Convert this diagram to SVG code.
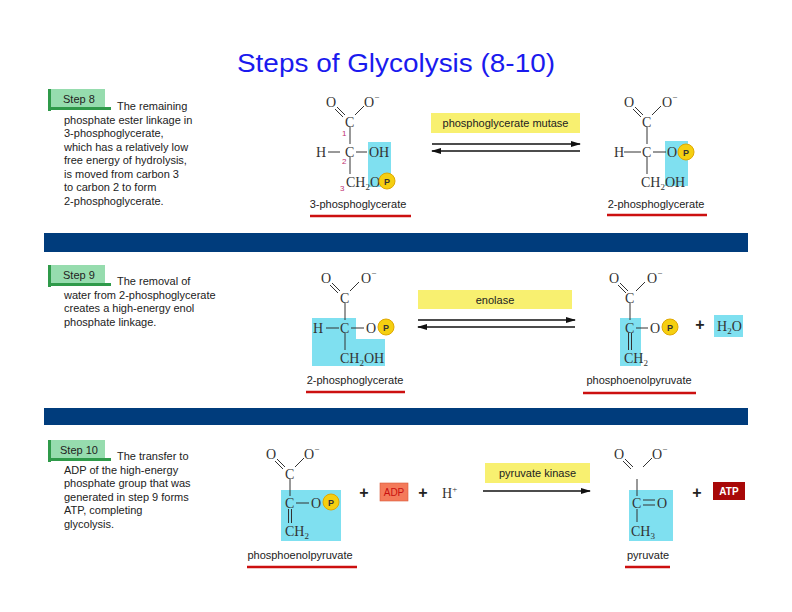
<svg xmlns="http://www.w3.org/2000/svg" width="792" height="612" viewBox="0 0 792 612">
<style>
.t{font-family:"Liberation Sans",Arial,sans-serif;font-size:11px;fill:#222}
.a{font-family:"Liberation Serif","Times New Roman",serif;font-size:14px;fill:#333}
.s{font-size:9px}
.n{font-family:"Liberation Sans",sans-serif;font-size:8px;fill:#c03070}
.b{stroke:#333;stroke-width:1;fill:none}
.cy{fill:#7fe0f0}
.en{fill:#f8f070}
.ul{stroke:#cc1010;stroke-width:2.5}
.band{fill:#003c7c}
.sb{fill:#96dcae}
.sd{fill:#2f9a4a}
.pc{fill:#f5cf10;stroke:#e0a800;stroke-width:1}
.pt{font-family:"Liberation Sans",sans-serif;font-size:9px;font-weight:bold;fill:#333}
.ar{stroke:#111;stroke-width:1.5}
.plus{font-family:"Liberation Sans",sans-serif;font-size:16px;font-weight:bold;fill:#222}
</style>
<defs>
<marker id="ah" viewBox="0 0 10 10" refX="9" refY="5" markerWidth="7" markerHeight="7" orient="auto-start-reverse"><path d="M0,2 L10,5 L0,8 z" fill="#111"/></marker>
</defs>
<text x="396" y="72" text-anchor="middle" font-family="Liberation Sans,Arial,sans-serif" font-size="26" fill="#1a1aee" textLength="318" lengthAdjust="spacingAndGlyphs">Steps of Glycolysis (8-10)</text>
<rect class="band" x="44" y="233" width="704" height="19"/>
<rect class="band" x="44" y="408" width="704" height="17"/>

<g id="step8">
<rect class="sb" x="48" y="89" width="57" height="20"/><rect class="sd" x="48" y="89" width="3" height="22"/><rect class="sd" x="48" y="107" width="63" height="3"/>
<text class="t" x="63" y="103" font-size="11">Step 8</text>
<text class="t"><tspan x="117" y="110">The remaining</tspan><tspan x="64" y="123.5">phosphate ester linkage in</tspan><tspan x="64" y="137">3-phosphoglycerate,</tspan><tspan x="64" y="150.5">which has a relatively low</tspan><tspan x="64" y="164">free energy of hydrolysis,</tspan><tspan x="64" y="177.5">is moved from carbon 3</tspan><tspan x="64" y="191">to carbon 2 to form</tspan><tspan x="64" y="204.5">2-phosphoglycerate.</tspan></text>
</g>
<g id="pg3">
<rect class="cy" x="368" y="142" width="23" height="45"/>
<text class="a" x="326" y="107">O</text><text class="a" x="364" y="107">O<tspan class="s" dy="-7">−</tspan></text>
<path class="b" d="M337,107 L345,115 M335,109 L343,117 M355,115 L364,106 M350,127 V144 M328,152 H340 M356,152 H367 M350,157 V174"/>
<text class="a" x="345" y="127">C</text>
<text class="n" x="342" y="136">1</text><text class="n" x="342" y="164">2</text><text class="n" x="340" y="191">3</text>
<text class="a" x="316" y="157">H</text><text class="a" x="345" y="157">C</text><text class="a" x="369" y="157">OH</text>
<text class="a" x="346" y="187">CH<tspan class="s" dy="3">2</tspan><tspan dy="-3">O</tspan></text>
<circle class="pc" cx="387" cy="181" r="8"/><text class="pt" x="387" y="184.5" text-anchor="middle">P</text>
<text class="t" x="358" y="208" text-anchor="middle">3-phosphoglycerate</text>
<line class="ul" x1="310" y1="216" x2="411" y2="216"/>
</g>
<g id="pg2a">
<rect class="cy" x="665" y="141" width="23" height="45"/>
<text class="a" x="624" y="107">O</text><text class="a" x="662" y="107">O<tspan class="s" dy="-7">−</tspan></text>
<path class="b" d="M635,107 L643,115 M633,109 L641,117 M652,115 L661,106 M647,127 V144 M624,152 H641 M653,152 H666 M647,157 V174"/>
<text class="a" x="642" y="127">C</text>
<text class="a" x="614" y="157">H</text><text class="a" x="642" y="157">C</text><text class="a" x="667" y="157">O</text>
<circle class="pc" cx="686" cy="152" r="8"/><text class="pt" x="686" y="155.5" text-anchor="middle">P</text>
<text class="a" x="641" y="187">CH<tspan class="s" dy="3">2</tspan><tspan dy="-3">OH</tspan></text>
<text class="t" x="656" y="208" text-anchor="middle">2-phosphoglycerate</text>
<line class="ul" x1="607" y1="215" x2="707" y2="215"/>
</g>
<g id="mutase">
<rect class="en" x="431" y="113" width="149" height="20"/>
<text class="t" x="505.5" y="127" text-anchor="middle">phosphoglycerate mutase</text>
</g>

<g id="step9">
<rect class="sb" x="48" y="265" width="57" height="20"/><rect class="sd" x="48" y="265" width="3" height="22"/><rect class="sd" x="48" y="283" width="63" height="3"/>
<text class="t" x="63" y="279">Step 9</text>
<text class="t"><tspan x="117" y="285">The removal of</tspan><tspan x="64" y="298.5">water from 2-phosphoglycerate</tspan><tspan x="64" y="312">creates a high-energy enol</tspan><tspan x="64" y="325.5">phosphate linkage.</tspan></text>
</g>
<g id="pg2b">
<path class="cy" d="M312,318 H356 V339 H385 V366 H312 Z"/>
<text class="a" x="321" y="283">O</text><text class="a" x="361" y="283">O<tspan class="s" dy="-7">−</tspan></text>
<path class="b" d="M332,283 L340,291 M330,285 L338,293 M350,291 L359,282 M345,303 V320 M326,328 H339 M351,328 H364 M345,333 V350"/>
<text class="a" x="340" y="303">C</text>
<text class="a" x="313" y="333">H</text><text class="a" x="340" y="333">C</text><text class="a" x="366" y="333">O</text>
<circle class="pc" cx="386" cy="327" r="8"/><text class="pt" x="386" y="330.5" text-anchor="middle">P</text>
<text class="a" x="340" y="363">CH<tspan class="s" dy="3">2</tspan><tspan dy="-3">OH</tspan></text>
<text class="t" x="355" y="384" text-anchor="middle">2-phosphoglycerate</text>
<line class="ul" x1="306" y1="392" x2="405" y2="392"/>
</g>
<g id="pep1">
<rect class="cy" x="620" y="318" width="21" height="48"/>
<text class="a" x="609" y="283">O</text><text class="a" x="647" y="283">O<tspan class="s" dy="-7">−</tspan></text>
<path class="b" d="M620,283 L628,291 M618,285 L626,293 M636,291 L645,282 M630,303 V320 M636,328 H648 M628.5,333 V350 M631.5,333 V350"/>
<text class="a" x="625" y="303">C</text><text class="a" x="625" y="333">C</text><text class="a" x="650" y="333">O</text>
<circle class="pc" cx="670" cy="327" r="8"/><text class="pt" x="670" y="330.5" text-anchor="middle">P</text>
<text class="a" x="624" y="363">CH<tspan class="s" dy="3">2</tspan></text>
<text class="t" x="639" y="384" text-anchor="middle">phosphoenolpyruvate</text>
<line class="ul" x1="583" y1="393" x2="696" y2="393"/>
</g>
<text class="plus" x="700" y="330" text-anchor="middle">+</text>
<g id="h2o"><rect class="cy" x="714" y="315" width="29" height="22"/><text class="a" x="717" y="331">H<tspan class="s" dy="3">2</tspan><tspan dy="-3">O</tspan></text></g>
<g id="enolase">
<rect class="en" x="418" y="290" width="154" height="19"/>
<text class="t" x="495" y="303.5" text-anchor="middle">enolase</text>
</g>

<g id="step10">
<rect class="sb" x="48" y="440" width="57" height="20"/><rect class="sd" x="48" y="440" width="3" height="22"/><rect class="sd" x="48" y="458" width="63" height="3"/>
<text class="t" x="60" y="454">Step 10</text>
<text class="t"><tspan x="117" y="460">The transfer to</tspan><tspan x="64" y="473.5">ADP of the high-energy</tspan><tspan x="64" y="487">phosphate group that was</tspan><tspan x="64" y="500.5">generated in step 9 forms</tspan><tspan x="64" y="514">ATP, completing</tspan><tspan x="64" y="527.5">glycolysis.</tspan></text>
</g>
<g id="pep2">
<rect class="cy" x="281" y="490" width="60" height="51"/>
<text class="a" x="266" y="459">O</text><text class="a" x="304" y="459">O<tspan class="s" dy="-7">−</tspan></text>
<path class="b" d="M277,459 L285,467 M275,461 L283,469 M295,467 L304,458 M290,479 V496 M296,503 H309 M288.5,509 V523 M291.5,509 V523"/>
<text class="a" x="285" y="479">C</text><text class="a" x="285" y="508">C</text><text class="a" x="311" y="508">O</text>
<circle class="pc" cx="331" cy="502" r="8"/><text class="pt" x="331" y="505.5" text-anchor="middle">P</text>
<text class="a" x="285" y="536">CH<tspan class="s" dy="3">2</tspan></text>
<text class="t" x="300" y="559" text-anchor="middle">phosphoenolpyruvate</text>
<line class="ul" x1="247" y1="567" x2="357" y2="567"/>
</g>
<text class="plus" x="364" y="498" text-anchor="middle">+</text>
<g id="adp"><rect x="380" y="483" width="28" height="18" fill="#f47a5a" stroke="#d85a3a" stroke-width="0.6"/><text x="394" y="496" text-anchor="middle" font-family="Liberation Sans,sans-serif" font-size="10" fill="#c81010">ADP</text></g>
<text class="plus" x="423" y="498" text-anchor="middle">+</text>
<text class="a" x="442" y="498">H<tspan class="s" dy="-6">+</tspan></text>
<g id="kinase">
<rect class="en" x="485" y="463" width="105" height="20"/>
<text class="t" x="537.5" y="477" text-anchor="middle">pyruvate kinase</text>
</g>
<g id="pyruvate">
<rect class="cy" x="629" y="490" width="44" height="51"/>
<text class="a" x="614" y="459">O</text><text class="a" x="652" y="459">O<tspan class="s" dy="-7">−</tspan></text>
<path class="b" d="M625,459 L633,467 M623,461 L631,469 M643,467 L652,458 M637,479 V496 M643,500 H655 M643,505 H655 M637,509 V522"/>
<text class="a" x="632" y="508">C</text><text class="a" x="657" y="508">O</text>
<text class="a" x="631" y="536">CH<tspan class="s" dy="3">3</tspan></text>
<text class="t" x="648" y="559" text-anchor="middle">pyruvate</text>
<line class="ul" x1="625" y1="567" x2="670" y2="567"/>
</g>
<text class="plus" x="697" y="498" text-anchor="middle">+</text>
<g id="atp"><rect x="713" y="482" width="32" height="18" fill="#a80808"/><text x="729" y="495" text-anchor="middle" font-family="Liberation Sans,sans-serif" font-size="10" font-weight="bold" fill="#fff">ATP</text></g>

<g id="connectors">
<line class="ar" x1="432" y1="144" x2="580" y2="144" marker-end="url(#ah)"/>
<line class="ar" x1="580" y1="151" x2="432" y2="151" marker-end="url(#ah)"/>
<line class="ar" x1="418" y1="320" x2="575" y2="320" marker-end="url(#ah)"/>
<line class="ar" x1="575" y1="327" x2="418" y2="327" marker-end="url(#ah)"/>
<line class="ar" x1="483" y1="491" x2="590" y2="491" marker-end="url(#ah)"/>
</g>
</svg>
